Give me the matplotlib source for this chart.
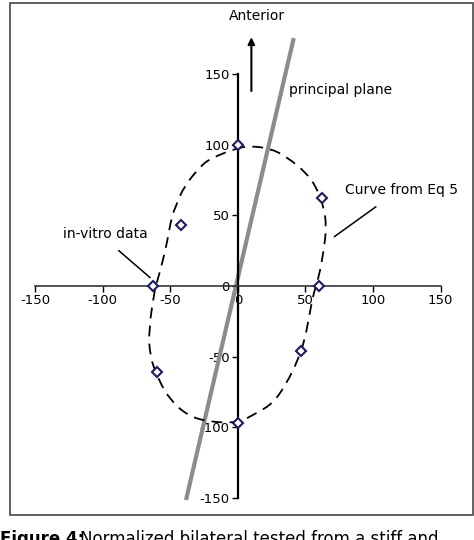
import matplotlib.pyplot as plt
from matplotlib.patches import Rectangle, PathPatch
from matplotlib.path import Path

# in-vitro data points
data_x = [0, 62, -42, -63, 60, -60, 47, 0]
data_y = [100, 62, 43, 0, 0, -61, -46, -97]

# curve from Eq 5, closed loop
curve_x = [-1, -20, -28, -40, -45, -49, -52.5, -56, -60, -61, -66, -65, -58.6, -50,
           -37.6, -22.8, 0, 13.7, 26, 36, 44.6, 49.5, 53.2, 56, 60, 63.6, 65.5, 63.6,
           58, 50.7, 36, 23.5, 8.7]
curve_y = [97.5, 90.4, 84.4, 70, 58.5, 49, 30, 16, 2, 0, -31, -50, -66.5, -80.7,
           -91.3, -96, -97, -90, -83, -69, -52, -38, -19, -5, 6.6, 25.5, 42, 56,
           70, 80, 91.5, 97.5, 99]

# principal plane end points
plane_x = [-38, 41]
plane_y = [-150, 174]

ticks = [-150, -100, -50, 0, 50, 100, 150]

fig = plt.figure(figsize=(4.74, 5.4), dpi=100)
ax = fig.add_axes([35 / 474, 42 / 540, 405.7 / 474, 424 / 540])
ax.set_xlim(-150, 150)
ax.set_ylim(-150, 150)

ax.plot(plane_x, plane_y, color="#8c8c8c", lw=3, clip_on=False, zorder=2)

# smooth closed curve: read points used as quadratic bezier control points
pts = list(zip(curve_x, curve_y))
n = len(pts)
mids = [((pts[i][0] + pts[(i + 1) % n][0]) / 2, (pts[i][1] + pts[(i + 1) % n][1]) / 2)
        for i in range(n)]
verts = [mids[-1]]
codes = [Path.MOVETO]
for i in range(n):
    verts += [pts[i], mids[i]]
    codes += [Path.CURVE3, Path.CURVE3]
ax.add_patch(PathPatch(Path(verts, codes), fill=False, edgecolor="black",
                       lw=1.3, ls=(0, (6, 4)), zorder=3))

ax.plot(data_x, data_y, ls="none", marker="D", ms=5.5, mfc="white",
        mec="#1c1c5a", mew=1.5, zorder=4)

# axes crossing at zero
for s in ["top", "right"]:
    ax.spines[s].set_visible(False)
ax.spines["left"].set_position(("data", 0))
ax.spines["bottom"].set_position(("data", 0))
ax.spines["left"].set_linewidth(1.6)
ax.spines["bottom"].set_linewidth(1.2)
ax.spines["bottom"].set_color("#333333")
ax.set_xticks(ticks)
ax.set_yticks(ticks)
ax.set_xticklabels([str(t) for t in ticks])
ax.set_yticklabels([str(t) for t in ticks])
ax.tick_params(direction="out", length=4, width=1, labelsize=9.5, pad=2)
ax.set_facecolor("none")

# annotations
ax.annotate("", xy=(10, 178), xytext=(10, 136),
            arrowprops=dict(arrowstyle="-|>", color="black", lw=1.5,
                            mutation_scale=10), annotation_clip=False)
ax.text(14, 186, "Anterior", ha="center", va="bottom", fontsize=10, clip_on=False)
ax.text(38, 139, "principal plane", ha="left", va="center", fontsize=10)
ax.text(79, 68, "Curve from Eq 5", ha="left", va="center", fontsize=10)
ax.plot([102, 71.5], [56, 35], color="black", lw=1.1)
ax.text(-98, 37, "in-vitro data", ha="center", va="center", fontsize=10)
ax.plot([-88, -65], [25, 6], color="black", lw=1.1)

# frame around the chart
fig.patches.append(Rectangle((10 / 474, 25 / 540), 463 / 474, 512 / 540,
                             transform=fig.transFigure, fill=False,
                             edgecolor="#555555", lw=1.3))

fig.text(0.0, -4 / 540, "Figure 4:", fontsize=12, fontweight="bold",
         ha="left", va="baseline")
fig.text(80 / 474, -4 / 540, "Normalized bilateral tested from a stiff and",
         fontsize=12, ha="left", va="baseline")

fig.savefig("out.png", dpi=100)
